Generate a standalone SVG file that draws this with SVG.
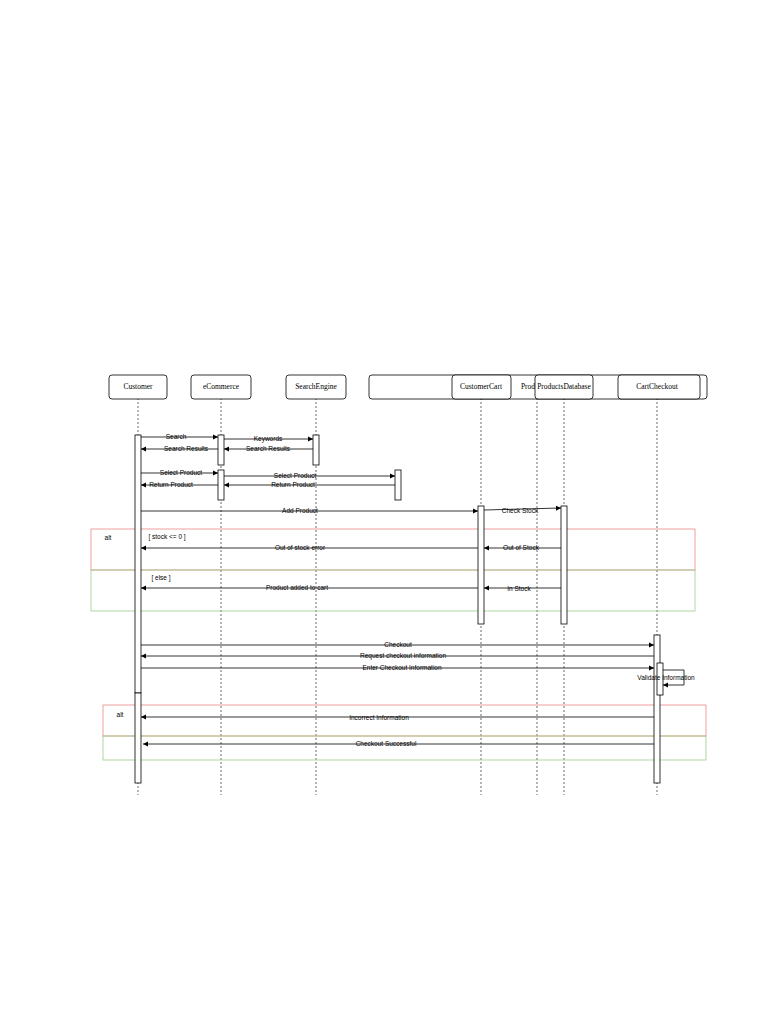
<svg xmlns="http://www.w3.org/2000/svg" width="768" height="1024" viewBox="0 0 768 1024">
<style>
.hd{fill:#fff;stroke:#000;stroke-width:0.8}
.ht{font-family:"Liberation Serif",serif;font-size:7.5px;text-anchor:middle}
.ll{stroke:#000;stroke-width:0.6;stroke-dasharray:2,2}
.act{fill:#fff;stroke:#000;stroke-width:0.8}
.m{stroke:#000;stroke-width:0.8;fill:none;marker-end:url(#a)}
.ml{font-family:"Liberation Sans",sans-serif;font-size:6.5px;text-anchor:middle}
.lb{fill:#fff}
</style>
<defs><marker id="a" markerWidth="6" markerHeight="6" refX="5" refY="3" orient="auto" markerUnits="userSpaceOnUse"><path d="M0,0.5L5,3L0,5.5z"/></marker></defs>
<rect width="768" height="1024" fill="#fff"/>
<g id="lifelines">
<line class="ll" x1="138" y1="398" x2="138" y2="795"/>
<line class="ll" x1="221" y1="398" x2="221" y2="795"/>
<line class="ll" x1="316" y1="398" x2="316" y2="795"/>
<line class="ll" x1="481" y1="398" x2="481" y2="795"/>
<line class="ll" x1="537" y1="398" x2="537" y2="795"/>
<line class="ll" x1="564" y1="398" x2="564" y2="795"/>
<line class="ll" x1="657" y1="398" x2="657" y2="795"/>
</g>
<g id="n-big"><rect class="hd" x="369" y="375" width="338" height="24" rx="3"/></g>
<g id="n-customer"><rect class="hd" x="109" y="375" width="58" height="24" rx="3"/><text class="ht" x="138" y="389">Customer</text></g>
<g id="n-ecommerce"><rect class="hd" x="191" y="375" width="60" height="24" rx="3"/><text class="ht" x="221" y="389">eCommerce</text></g>
<g id="n-search"><rect class="hd" x="286" y="375" width="60" height="24" rx="3"/><text class="ht" x="316" y="389">SearchEngine</text></g>
<g id="n-cart"><rect class="hd" x="452" y="375" width="59" height="24" rx="3"/><text class="ht" x="481" y="389">CustomerCart</text></g>
<g id="n-prod"><text class="ht" x="528" y="389">Prod</text></g>
<g id="n-db"><rect class="hd" x="535" y="375" width="58" height="24" rx="3"/><text class="ht" x="564" y="389">ProductsDatabase</text></g>
<g id="n-checkout"><rect class="hd" x="618" y="375" width="82" height="24" rx="3"/><text class="ht" x="657" y="389">CartCheckout</text></g>
<g id="frames">
<rect x="91" y="529" width="604" height="41" fill="none" stroke="#e88" stroke-width="0.8"/>
<rect x="91" y="570" width="604" height="41" fill="none" stroke="#9c8" stroke-width="0.8"/>
<text class="ml" x="108" y="540">alt</text>
<text class="ml" x="167" y="539">[ stock &lt;= 0 ]</text>
<text class="ml" x="161" y="580">[ else ]</text>
<rect x="103" y="705" width="603" height="31" fill="none" stroke="#e88" stroke-width="0.8"/>
<rect x="103" y="736" width="603" height="24" fill="none" stroke="#9c8" stroke-width="0.8"/>
<text class="ml" x="120" y="717">alt</text>
</g>
<g id="activations">
<rect class="act" x="135" y="435" width="6" height="258"/>
<rect class="act" x="135" y="693" width="6" height="90"/>
<rect class="act" x="218" y="435" width="6" height="30"/>
<rect class="act" x="218" y="470" width="6" height="30"/>
<rect class="act" x="313" y="435" width="6" height="30"/>
<rect class="act" x="395" y="470" width="6" height="30"/>
<rect class="act" x="478" y="506" width="6" height="118"/>
<rect class="act" x="561" y="506" width="6" height="118"/>
<rect class="act" x="654" y="635" width="6" height="148"/>
<rect class="act" x="657" y="663" width="6" height="32"/>
</g>
<g id="connectors">
<line class="m" x1="141" y1="437" x2="218" y2="437"/>
<line class="m" x1="224" y1="439" x2="313" y2="439"/>
<line class="m" x1="313" y1="449" x2="224" y2="449"/>
<line class="m" x1="218" y1="449" x2="141" y2="449"/>
<line class="m" x1="141" y1="473" x2="218" y2="473"/>
<line class="m" x1="224" y1="476" x2="395" y2="476" stroke-width="1.3"/>
<line class="m" x1="395" y1="485" x2="224" y2="485"/>
<line class="m" x1="218" y1="485" x2="141" y2="485"/>
<line class="m" x1="141" y1="511" x2="478" y2="511"/>
<line class="m" x1="484" y1="510" x2="561" y2="508"/>
<line class="m" x1="478" y1="548" x2="141" y2="548"/>
<line class="m" x1="561" y1="548" x2="484" y2="548"/>
<line class="m" x1="478" y1="588" x2="141" y2="588"/>
<line class="m" x1="561" y1="588" x2="484" y2="588"/>
<line class="m" x1="141" y1="645" x2="654" y2="645"/>
<line class="m" x1="654" y1="656" x2="141" y2="656"/>
<line class="m" x1="141" y1="668" x2="654" y2="668"/>
<path class="m" d="M663,670H684V685H663"/>
<line class="m" x1="654" y1="717" x2="141" y2="717"/>
<line class="m" x1="654" y1="744" x2="143" y2="744"/>
</g>
<g id="labels">
<text class="ml" x="176" y="439">Search</text>
<text class="ml" x="268" y="441">Keywords</text>
<text class="ml" x="268" y="451">Search Results</text>
<text class="ml" x="186" y="451">Search Results</text>
<text class="ml" x="181" y="475">Select Product</text>
<text class="ml" x="295" y="478">Select Product</text>
<text class="ml" x="293" y="487">Return Product</text>
<text class="ml" x="171" y="487">Return Product</text>
<text class="ml" x="300" y="513">Add Product</text>
<text class="ml" x="520" y="513">Check Stock</text>
<text class="ml" x="300" y="550">Out of stock error</text>
<text class="ml" x="521" y="550">Out of Stock</text>
<text class="ml" x="297" y="590">Product added to cart</text>
<text class="ml" x="519" y="591">In Stock</text>
<text class="ml" x="398" y="647">Checkout</text>
<text class="ml" x="403" y="658">Request checkout information</text>
<text class="ml" x="402" y="670">Enter Checkout Information</text>
<text class="ml" x="666" y="680" text-anchor="start">Validate Information</text>
<text class="ml" x="379" y="720">Incorrect Information</text>
<text class="ml" x="386" y="746">Checkout Successful</text>
</g>
</svg>
